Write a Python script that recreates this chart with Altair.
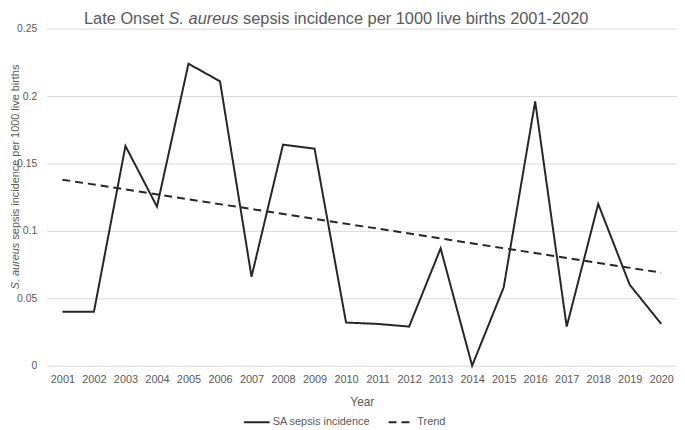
import altair as alt
import pandas as pd

# ---- data ----
years = ["2001", "2002", "2003", "2004", "2005", "2006", "2007", "2008", "2009", "2010",
         "2011", "2012", "2013", "2014", "2015", "2016", "2017", "2018", "2019", "2020"]
incidence = [0.040, 0.040, 0.163, 0.118, 0.224, 0.211, 0.066, 0.164, 0.161, 0.032,
             0.031, 0.029, 0.087, 0.000, 0.058, 0.196, 0.029, 0.120, 0.060, 0.031]
trend_years = ["2001", "2020"]
trend_values = [0.138, 0.069]
series_names = ["SA sepsis incidence", "Trend"]
y_ticks = [0, 0.05, 0.1, 0.15, 0.2, 0.25]
title_parts = ["Late Onset", "S. aureus", "sepsis incidence per 1000 live births 2001-2020"]
ylabel_parts = ["S. aureus", "sepsis incidence per 1000 live births"]
x_title = "Year"

df = pd.DataFrame({
    "Year": years + trend_years,
    "value": incidence + trend_values,
    "series": [series_names[0]] * len(years) + [series_names[1]] * len(trend_years),
})

GREY = "#595959"
LINE = "#262626"
FONT = "Liberation Sans"

line = alt.Chart(df).mark_line(color=LINE, strokeWidth=2).encode(
    x=alt.X("Year:O",
            scale=alt.Scale(type="point", padding=0.5, domain=years),
            axis=alt.Axis(title=x_title, labelAngle=0, ticks=False, domain=False, grid=False,
                          labelPadding=8, titlePadding=12, labelFontSize=11, titleFontSize=12,
                          labelColor=GREY, titleColor=GREY, titleFontWeight="normal",
                          labelFont=FONT, titleFont=FONT)),
    y=alt.Y("value:Q",
            scale=alt.Scale(domain=[0, 0.25], nice=False),
            axis=alt.Axis(values=y_ticks, format=".2~f", title=None, ticks=False, domain=False,
                          gridColor="#d9d9d9", gridWidth=1, labelPadding=10, labelFontSize=10.5,
                          labelColor=GREY, labelFont=FONT)),
    strokeDash=alt.StrokeDash("series:N",
                              scale=alt.Scale(domain=series_names, range=[[1, 0], [8, 5]]),
                              legend=alt.Legend(title=None, orient="none", legendX=198, legendY=383,
                                                direction="horizontal", symbolType="stroke",
                                                symbolSize=676, symbolStrokeWidth=2,
                                                symbolStrokeColor=LINE, labelFontSize=11,
                                                labelColor=GREY, labelFont=FONT, labelOffset=2,
                                                columnPadding=14)),
)

def txt(s, x, y, align="left", italic=False, size=16.5, angle=0, baseline="middle"):
    kw = dict(align=align, baseline=baseline, font=FONT, fontSize=size, color=GREY)
    if italic:
        kw["fontStyle"] = "italic"
    if angle:
        kw["angle"] = angle
    return alt.Chart(pd.DataFrame({"t": [s]})).mark_text(**kw).encode(
        text="t:N", x=alt.value(x), y=alt.value(y))

title_y = -18
s_x = 123
t1 = txt(title_parts[0], s_x - 4.6, title_y, align="right", baseline="top")
t2 = txt(title_parts[1], s_x, title_y, italic=True, baseline="top")
t3 = txt(title_parts[2], s_x + 75.2, title_y, baseline="top")

yl_x = -31
yl_start = 263
y1 = txt(ylabel_parts[0], yl_x, yl_start, italic=True, size=11, angle=270)
y2 = txt(ylabel_parts[1], yl_x, yl_start - 47.1 - 3.1, size=11, angle=270)

chart = alt.layer(line, t1, t2, t3, y1, y2).properties(
    width=636, height=340,
    autosize=alt.AutoSizeParams(type="none"),
    padding={"left": 39, "top": 19, "right": 0, "bottom": 62},
).configure_view(stroke=None)

chart.save("out.html", embed_options={"renderer": "svg", "actions": False})
